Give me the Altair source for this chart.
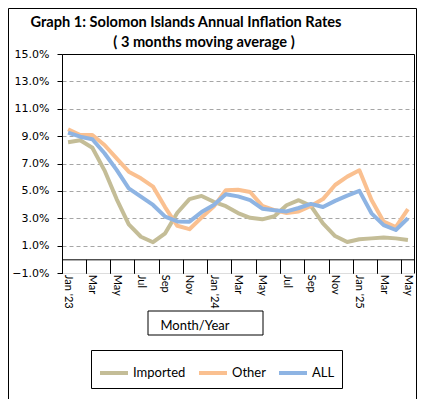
import altair as alt
import pandas as pd

months = ["Jan '23", "Feb '23", "Mar '23", "Apr '23", "May '23", "Jun '23", "Jul '23", "Aug '23",
          "Sep '23", "Oct '23", "Nov '23", "Dec '23",
          "Jan '24", "Feb '24", "Mar '24", "Apr '24", "May '24", "Jun '24", "Jul '24", "Aug '24",
          "Sep '24", "Oct '24", "Nov '24", "Dec '24",
          "Jan '25", "Feb '25", "Mar '25", "Apr '25", "May '25"]

imported = [8.55, 8.70, 8.15, 6.50, 4.40, 2.55, 1.65, 1.25, 1.90, 3.40, 4.40, 4.63,
            4.20, 3.88, 3.38, 3.03, 2.92, 3.15, 3.95, 4.32, 3.90, 2.62, 1.70, 1.27,
            1.47, 1.53, 1.60, 1.53, 1.41]
other = [9.50, 9.08, 9.08, 8.35, 7.38, 6.40, 5.92, 5.31, 3.80, 2.45, 2.20, 3.05,
         3.85, 5.05, 5.08, 4.92, 3.90, 3.60, 3.38, 3.50, 3.90, 4.40, 5.43, 6.04,
         6.50, 4.33, 2.75, 2.36, 3.66]
all_items = [9.26, 8.96, 8.77, 7.75, 6.53, 5.19, 4.58, 3.97, 3.12, 2.77, 2.75, 3.45,
             3.97, 4.75, 4.60, 4.33, 3.70, 3.58, 3.50, 3.75, 4.05, 3.82, 4.27, 4.65,
             5.00, 3.36, 2.50, 2.14, 3.00]

series = ["Imported", "Other", "ALL"]
y_ticks = [-1, 1, 3, 5, 7, 9, 11, 13, 15]
title_lines = ["Graph 1:  Solomon Islands Annual Inflation Rates", "( 3 months moving average )"]
x_title = "Month/Year"

colors = ["#c4bd97", "#fac090", "#8eb4e3"]

rows = []
for name, vals in zip(series, [imported, other, all_items]):
    for m, v in zip(months, vals):
        rows.append({"month": m, "value": v, "series": name})
df = pd.DataFrame(rows)

W, H = 352, 219
unit = H / 16.0

xscale = alt.Scale(type="band", paddingInner=0, paddingOuter=0)
yscale = alt.Scale(domain=[-1, 15], nice=False, zero=False)

lines = alt.Chart(df).mark_line(strokeWidth=4, strokeJoin="round").encode(
    x=alt.X("month:O", sort=months, scale=xscale,
            axis=alt.Axis(values=months[::2], title=None, grid=False,
                          labelExpr="slice(datum.label,0,3) == 'Jan' ? datum.label : slice(datum.label,0,3)",
                          labelAngle=90, labelFont="Lato", labelFontSize=11, labelColor="black",
                          tickColor="black", tickSize=14, domainColor="black",
                          offset=-unit, labelPadding=1, bandPosition=0)),
    y=alt.Y("value:Q", scale=yscale,
            axis=alt.Axis(values=y_ticks, title=None,
                          labelExpr="format(datum.value, '.1f') + '%'",
                          labelFont="DejaVu Sans", labelFontSize=11, labelColor="black",
                          tickColor="black", tickSize=5, domainColor="black", labelPadding=8,
                          gridDash=[4, 3], gridColor="#a6a6a6",
                          gridOpacity={"condition": {"test": "datum.value < 0", "value": 0}, "value": 1})),
    color=alt.Color("series:N", sort=series, scale=alt.Scale(domain=series, range=colors),
                    legend=alt.Legend(title=None, orient="none", legendX=29, legendY=296,
                                      direction="horizontal", symbolType="stroke", symbolSize=784,
                                      symbolStrokeWidth=4, labelFont="Lato", labelFontSize=13,
                                      labelColor="black", strokeColor="black", padding=7,
                                      columnPadding=5, labelOffset=3)),
)

frame = alt.Chart(df).mark_line(opacity=0).encode(
    x=alt.X("month:O", sort=months, scale=xscale,
            axis=alt.Axis(orient="top", labels=False, ticks=False, grid=False, title=None,
                          domainColor="black")),
    y=alt.Y("value:Q", scale=yscale,
            axis=alt.Axis(orient="right", labels=False, ticks=False, grid=False, title=None,
                          domainColor="black")),
    detail="series:N",
)

title1 = alt.Chart(pd.DataFrame({"t": [title_lines[0]]})).mark_text(
    font="Lato", fontSize=14.6, fontWeight="bold", align="center", baseline="alphabetic", color="black"
).encode(x=alt.value(124), y=alt.value(-27), text="t:N")
title2 = alt.Chart(pd.DataFrame({"t": [title_lines[1]]})).mark_text(
    font="Lato", fontSize=14.6, fontWeight="bold", align="center", baseline="alphabetic", color="black"
).encode(x=alt.value(142), y=alt.value(-7), text="t:N")

xbox = alt.Chart(pd.DataFrame({"t": [x_title]})).mark_rect(
    fillOpacity=0, stroke="black", strokeWidth=1
).encode(x=alt.value(86), x2=alt.value(201), y=alt.value(257), y2=alt.value(281))
xlabel = alt.Chart(pd.DataFrame({"t": [x_title]})).mark_text(
    font="Lato", fontSize=13, align="left", baseline="alphabetic", color="black"
).encode(x=alt.value(98.5), y=alt.value(276), text="t:N")

outer = alt.Chart(pd.DataFrame({"t": [""]})).mark_rect(
    fillOpacity=0, stroke="black", strokeWidth=1
).encode(x=alt.value(-53.5), x2=alt.value(354.5), y=alt.value(-45.5), y2=alt.value(345.5))

chart = alt.layer(lines, frame, title1, title2, xbox, xlabel, outer).resolve_axis(
    x="independent", y="independent"
).properties(
    width=W, height=H,
    autosize=alt.AutoSizeParams(type="none"),
    padding={"left": 54, "top": 46, "right": 6, "bottom": 126},
).configure_view(stroke=None).configure(background="white")

chart.save("out.html", embed_options={"renderer": "svg", "actions": False})
